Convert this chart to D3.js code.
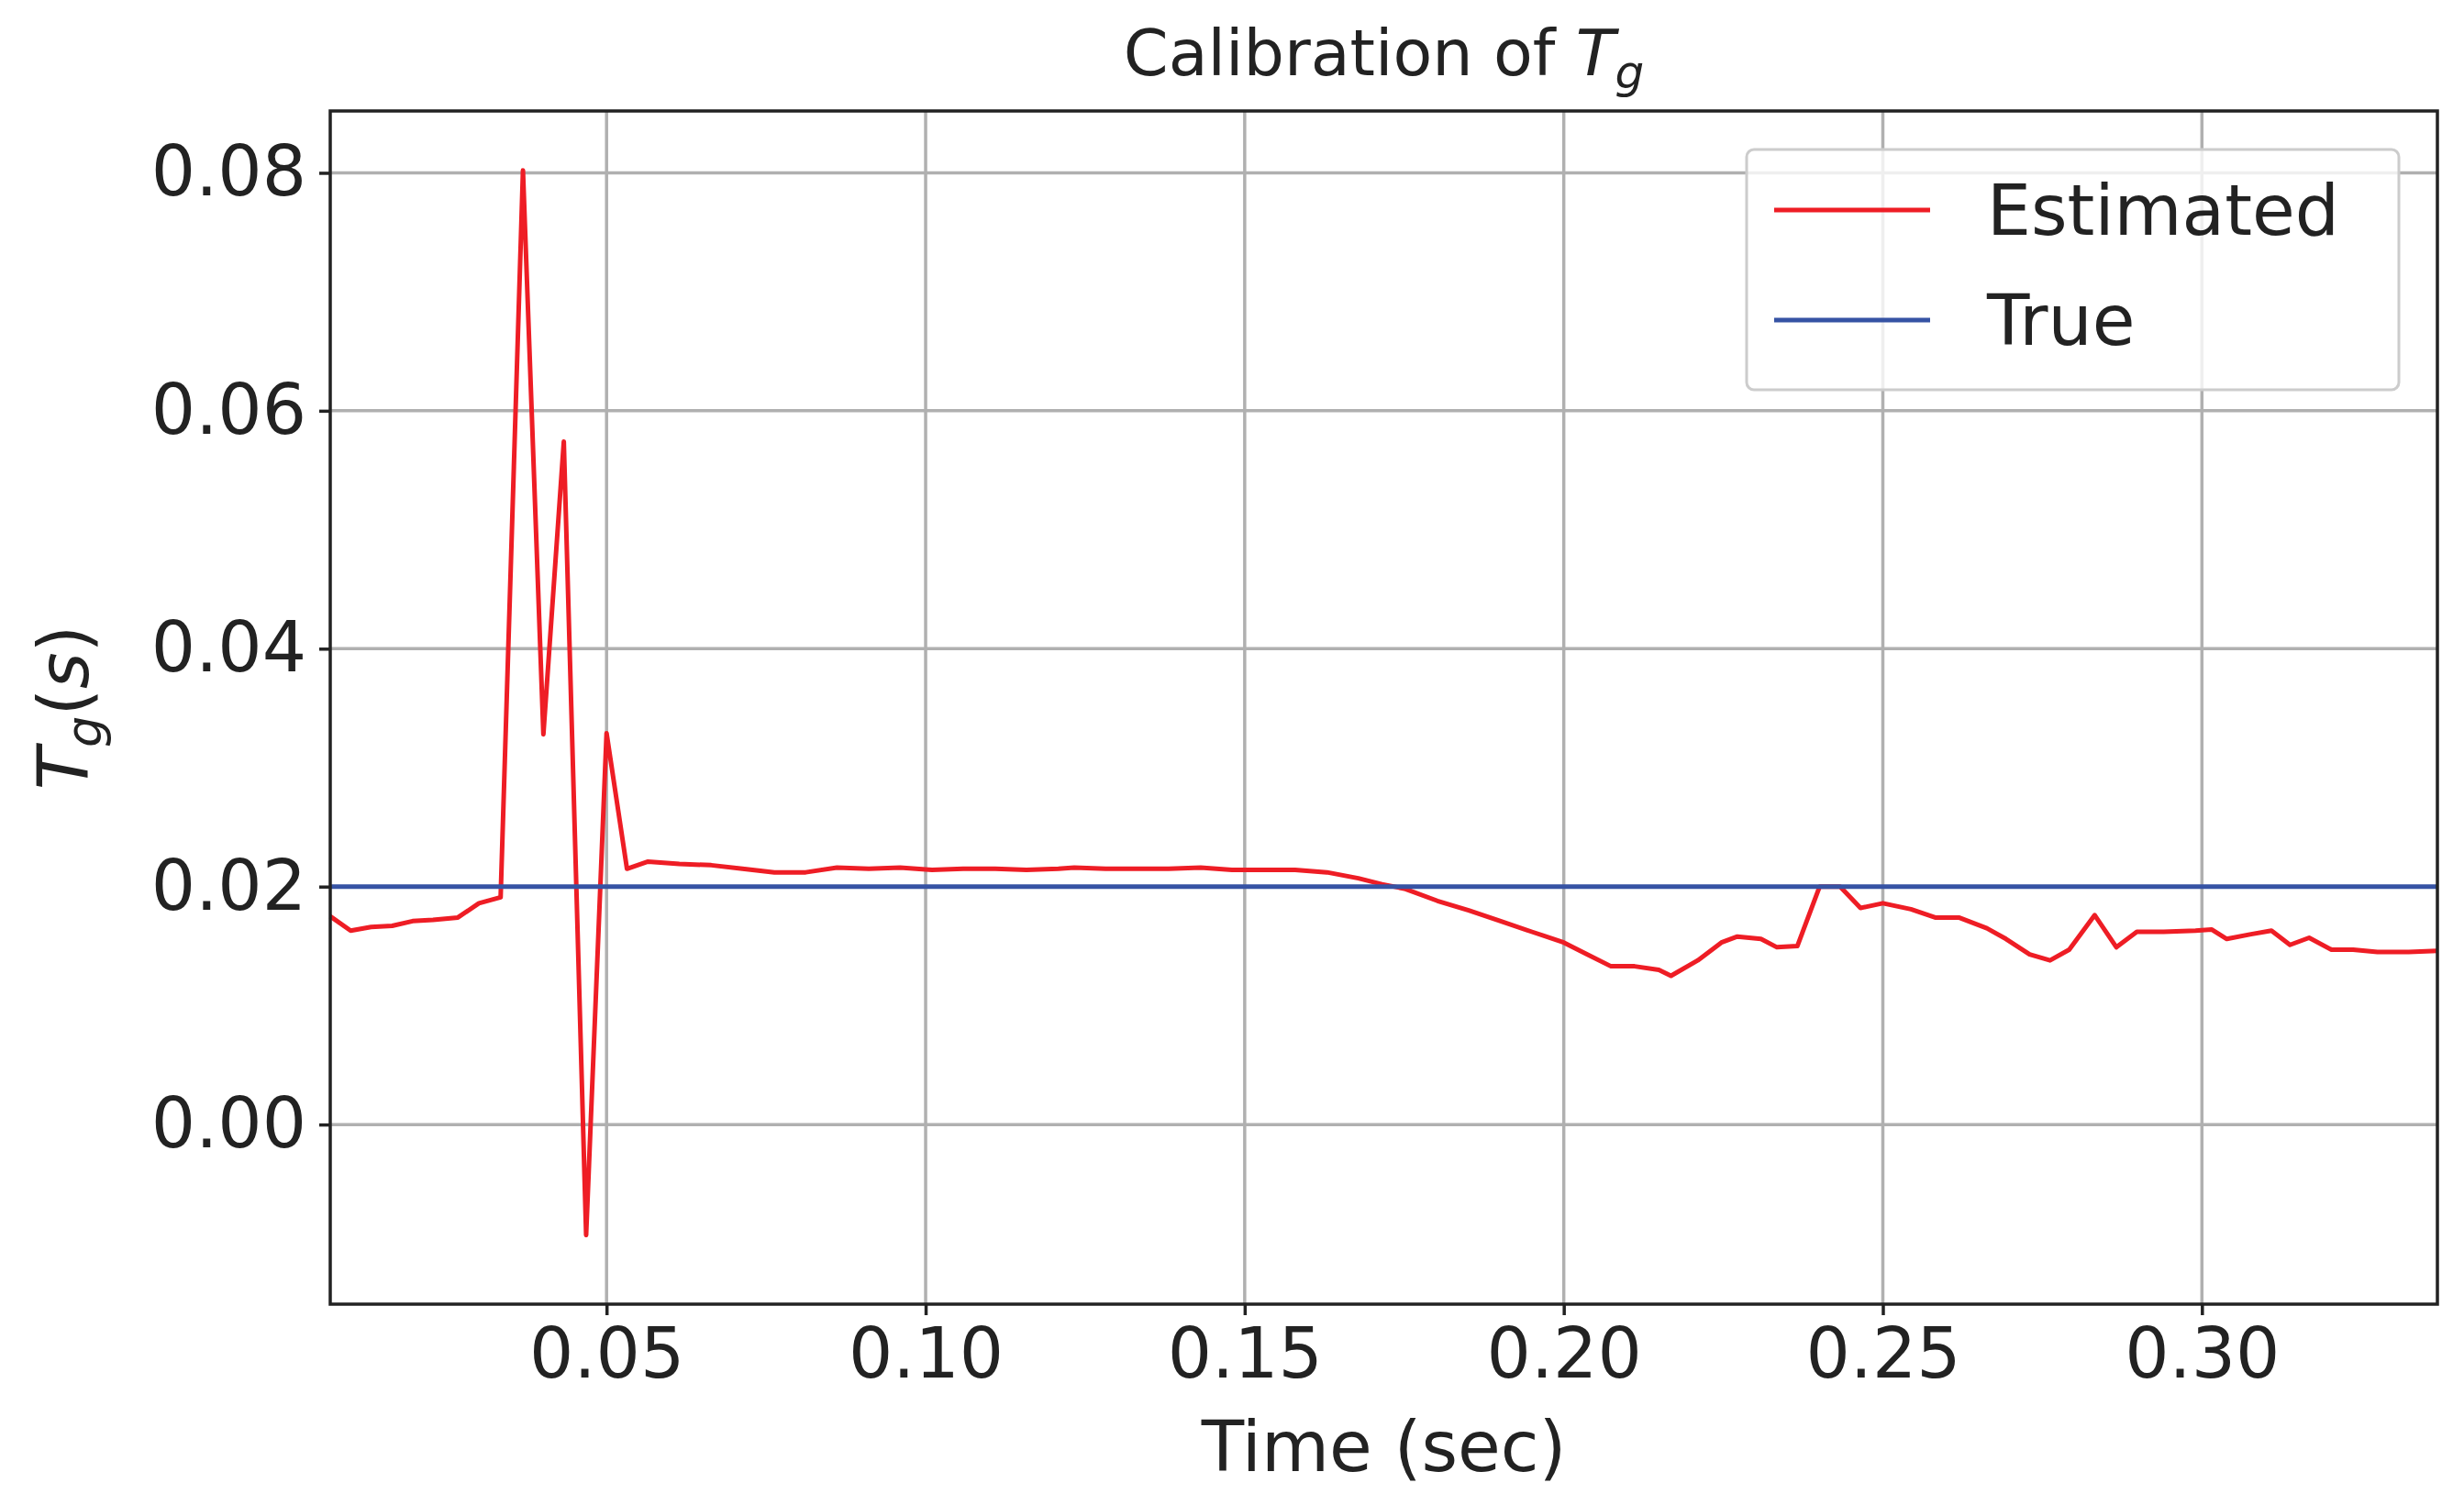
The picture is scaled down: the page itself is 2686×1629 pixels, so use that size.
<!DOCTYPE html>
<html>
<head>
<meta charset="utf-8">
<script src="https://cdn.jsdelivr.net/npm/d3@7"></script>
<style>
  body { margin: 0; background: #fff; }
  text { font-family: "DejaVu Sans", sans-serif; fill: #222; }
</style>
</head>
<body>
<div id="chart"></div>
<script>
// values
var timeVals = [0.0067,0.0099,0.0131,0.0164,0.0196,0.0228,0.0267,0.0300,0.0334,0.0369,0.0401,0.0433,0.0468,0.0500,0.0532,0.0565,
  0.0614,0.0664,0.0713,0.0763,0.0812,0.0861,0.0911,0.0960,0.1010,0.1059,0.1109,0.1158,0.1208,0.1233,0.1282,0.1332,0.1381,0.1431,
  0.1480,0.1530,0.1579,0.1629,0.1678,0.1715,0.1752,0.1802,0.1851,0.1901,0.1950,0.2000,0.2037,0.2074,0.2111,0.2149,0.2168,0.2210,
  0.2247,0.2272,0.2309,0.2334,0.2366,0.2401,0.2433,0.2465,0.2500,0.2544,0.2582,0.2619,0.2663,0.2693,0.2730,0.2762,0.2792,0.2832,
  0.2866,0.2898,0.2940,0.2990,0.3015,0.3039,0.3077,0.3109,0.3138,0.3168,0.3203,0.3237,0.3275,0.3324,0.3369];
var estimated = [0.0175,0.0163,0.0166,0.0167,0.0171,0.0172,0.0174,0.0186,0.0191,0.0802,0.0328,0.0574,-0.0093,0.0329,0.0215,0.0221,
  0.0219,0.0218,0.0215,0.0212,0.0212,0.0216,0.0215,0.0216,0.0214,0.0215,0.0215,0.0214,0.0215,0.0216,0.0215,0.0215,0.0215,0.0216,
  0.0214,0.0214,0.0214,0.0212,0.0207,0.0202,0.0198,0.0188,0.0180,0.0171,0.0162,0.0153,0.0143,0.0133,0.0133,0.0130,0.0125,0.0138,
  0.0153,0.0158,0.0156,0.0149,0.0150,0.0200,0.0200,0.0182,0.0186,0.0181,0.0174,0.0174,0.0165,0.0156,0.0143,0.0138,0.0147,0.0176,
  0.0149,0.0162,0.0162,0.0163,0.0164,0.0156,0.0160,0.0163,0.0151,0.0157,0.0147,0.0147,0.0145,0.0145,0.0146];
var trueVal = 0.02;
var xTicks = [0.05,0.10,0.15,0.20,0.25,0.30];
var yTicks = [0.00,0.02,0.04,0.06,0.08];

var svgWidth = 2686, svgHeight = 1629;
var margin = {top: 121, right: 29, bottom: 207, left: 360};
var width = svgWidth - margin.left - margin.right;
var height = svgHeight - margin.top - margin.bottom;

var svg = d3.select("#chart").append("svg")
  .attr("width", svgWidth).attr("height", svgHeight);
var chartGroup = svg.append("g")
  .attr("transform", `translate(${margin.left}, ${margin.top})`);

var xScale = d3.scaleLinear().domain([0.0067, 0.3369]).range([0, width]);
var yScale = d3.scaleLinear().domain([-0.0151, 0.0852]).range([height, 0]);

// grid
chartGroup.selectAll(".vgrid").data(xTicks).enter().append("line")
  .attr("x1", d => xScale(d)).attr("x2", d => xScale(d))
  .attr("y1", 0).attr("y2", height)
  .attr("stroke", "#b0b0b0").attr("stroke-width", 3.5);
chartGroup.selectAll(".hgrid").data(yTicks).enter().append("line")
  .attr("y1", d => yScale(d)).attr("y2", d => yScale(d))
  .attr("x1", 0).attr("x2", width)
  .attr("stroke", "#b0b0b0").attr("stroke-width", 3.5);

var bottomAxis = d3.axisBottom(xScale).tickValues(xTicks).tickFormat(d3.format(".2f")).tickSize(12).tickPadding(14);
var leftAxis = d3.axisLeft(yScale).tickValues(yTicks).tickFormat(d3.format(".2f")).tickSize(12).tickPadding(14);

var xg = chartGroup.append("g").attr("transform", `translate(0, ${height})`).call(bottomAxis);
var yg = chartGroup.append("g").call(leftAxis);
[xg, yg].forEach(function(g) {
  g.select(".domain").remove();
  g.selectAll("line").attr("stroke", "#222").attr("stroke-width", 3.5);
  g.selectAll("text").style("font-size", "76px").style("font-family", "DejaVu Sans").attr("fill", "#222");
});

// lines
var line = d3.line().x((d, i) => xScale(timeVals[i])).y(d => yScale(d));
chartGroup.append("path").datum(estimated)
  .attr("d", line).attr("fill", "none")
  .attr("stroke", "#ee1d25").attr("stroke-width", 5).attr("stroke-linejoin", "round");
chartGroup.append("line")
  .attr("x1", 0).attr("x2", width)
  .attr("y1", yScale(trueVal)).attr("y2", yScale(trueVal))
  .attr("stroke", "#3653a4").attr("stroke-width", 5);

// frame
chartGroup.append("rect").attr("width", width).attr("height", height)
  .attr("fill", "none").attr("stroke", "#222").attr("stroke-width", 3.5);

// title
var title = svg.append("text").attr("x", margin.left + width / 2).attr("y", 82)
  .attr("text-anchor", "middle").style("font-size", "70px");
title.append("tspan").text("Calibration of ");
title.append("tspan").text("T").style("font-style", "italic");
title.append("tspan").text("g").style("font-style", "italic").style("font-size", "50px").attr("dy", 14);

// axis labels
svg.append("text").attr("x", margin.left + width / 2).attr("y", 1604)
  .attr("text-anchor", "middle").style("font-size", "76px").text("Time (sec)");
var yl = svg.append("text")
  .attr("transform", `translate(96, ${margin.top + height / 2}) rotate(-90)`)
  .attr("text-anchor", "middle").style("font-size", "76px");
yl.append("tspan").text("T").style("font-style", "italic");
yl.append("tspan").text("g").style("font-style", "italic").style("font-size", "54px").attr("dy", 14);
yl.append("tspan").text("(").attr("dy", -14);
yl.append("tspan").text("s").style("font-style", "italic");
yl.append("tspan").text(")");

// legend
var legend = svg.append("g").attr("transform", "translate(1904, 163)");
legend.append("rect").attr("width", 711).attr("height", 262).attr("rx", 8)
  .attr("fill", "#fff").attr("fill-opacity", 0.8).attr("stroke", "#ccc").attr("stroke-width", 3);
var legendItems = [["Estimated", "#ee1d25"], ["True", "#3653a4"]];
legendItems.forEach(function(item, i) {
  var y = 66 + i * 120;
  legend.append("line").attr("x1", 30).attr("x2", 200).attr("y1", y).attr("y2", y)
    .attr("stroke", item[1]).attr("stroke-width", 5);
  legend.append("text").attr("x", 262).attr("y", y + 27).style("font-size", "76px").text(item[0]);
});
</script>
</body>
</html>
